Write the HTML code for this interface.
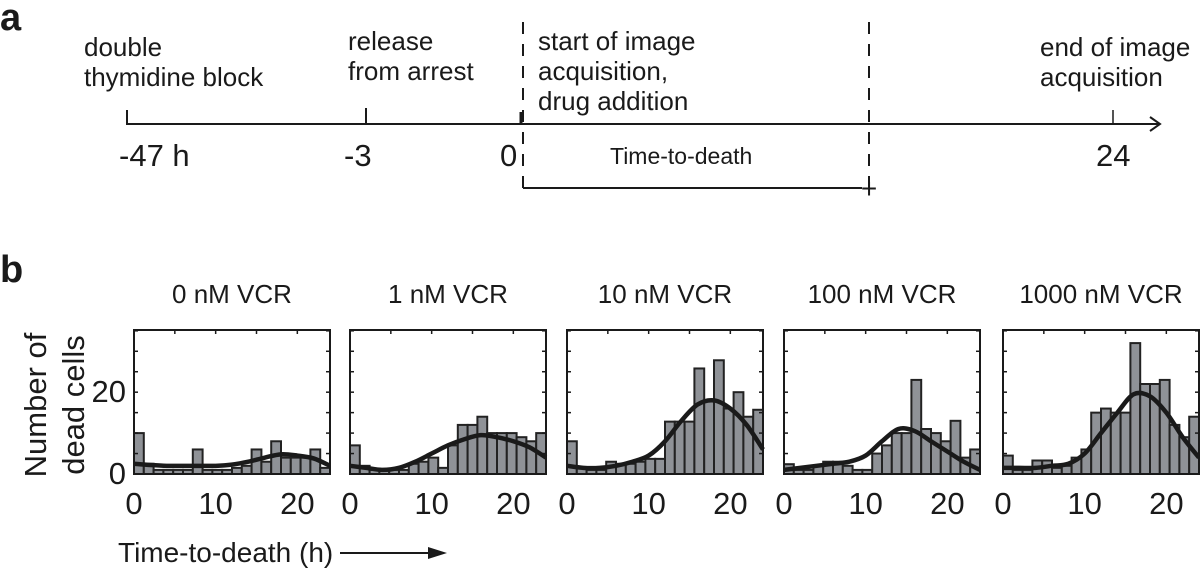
<!DOCTYPE html>
<html><head><meta charset="utf-8"><style>
body{margin:0;background:#fff;}
svg{display:block;font-family:"Liberation Sans",Arial,sans-serif;}
</style></head><body>
<svg width="1200" height="568" viewBox="0 0 1200 568" xmlns="http://www.w3.org/2000/svg">
<g fill="#1a1a1a">
<text x="0" y="30" font-size="38" font-weight="bold">a</text>
<line x1="126" y1="124" x2="1160" y2="124" stroke="#1a1a1a" stroke-width="2"/>
<polyline points="1150,117 1160,124 1150,131" fill="none" stroke="#1a1a1a" stroke-width="2"/>
<line x1="127" y1="110" x2="127" y2="124" stroke="#1a1a1a" stroke-width="2"/>
<line x1="366" y1="108" x2="366" y2="124" stroke="#1a1a1a" stroke-width="2"/>
<line x1="521" y1="112" x2="521" y2="124" stroke="#1a1a1a" stroke-width="3"/>
<line x1="1113" y1="110" x2="1113" y2="124" stroke="#1a1a1a" stroke-width="1.5"/>
<line x1="523" y1="22" x2="523" y2="196" stroke="#1a1a1a" stroke-width="2" stroke-dasharray="12,10"/>
<line x1="869" y1="22" x2="869" y2="196" stroke="#1a1a1a" stroke-width="2" stroke-dasharray="12,10"/>
<line x1="523" y1="188" x2="862" y2="188" stroke="#1a1a1a" stroke-width="2"/>
<text x="869" y="198" font-size="28" text-anchor="middle">+</text>
<g font-size="26">
<text x="84" y="56">double</text>
<text x="84" y="86">thymidine block</text>
<text x="348" y="50">release</text>
<text x="348" y="80">from arrest</text>
<text x="538" y="50">start of image</text>
<text x="538" y="80">acquisition,</text>
<text x="538" y="110">drug addition</text>
<text x="1040" y="56">end of image</text>
<text x="1040" y="86">acquisition</text>
<text x="610" y="164" font-size="23">Time-to-death</text>
</g>
<g font-size="31">
<text x="119" y="166">-47 h</text>
<text x="344" y="166">-3</text>
<text x="500" y="166">0</text>
<text x="1096" y="166">24</text>
</g>
</g>
<g fill="#1a1a1a">
<text x="0" y="282" font-size="38" font-weight="bold">b</text>
<text transform="translate(46,405) rotate(-90)" font-size="31" text-anchor="middle">Number of</text>
<text transform="translate(84,405) rotate(-90)" font-size="31" text-anchor="middle">dead cells</text>
<text x="126" y="402" font-size="31" text-anchor="end">20</text>
<text x="126" y="484" font-size="31" text-anchor="end">0</text>
<text x="118" y="562" font-size="28">Time-to-death (h)</text>
<line x1="340" y1="553" x2="430" y2="553" stroke="#1a1a1a" stroke-width="2"/>
<polygon points="428,547 447,553 428,559"/>
<g id="panels"></g>
</g>
</svg>
<script>
const titles = ["0 nM VCR","1 nM VCR","10 nM VCR","100 nM VCR","1000 nM VCR"];
const counts0 = [10,2.5,1,1,1,1,6,1,1,1,1.5,2,6,3,8,4,4,4,6,1.5];
const counts1 = [7,2,1,1,1,1,2.5,3,4,1.5,7,12,12,14,10,10,10,9,8,10];
const counts10 = [8,1.5,1,1,3,2.5,2.5,3,3.7,3.7,12.8,12.8,12.8,25.8,18,27.8,16,20,14,15.7];
const counts100 = [2.4,1,1,2,3,3,2,1,1,5,7,10,10,23,11,10,8,13,4,6];
const counts1000 = [4.5,1,1,3.3,3.3,1.5,2,4,6,15,16,15,15,32,22,22,23,12,9,14];
const fitX = [0,2,4,6,8,10,12,14,16,18,20,22,24];
const fit0 = [2.5,2.2,2,2,2,2,2.3,3,4,4.8,4.5,3.8,2];
const fit1 = [2,1.5,1,1.5,3,5,7,8.5,9.5,9,8,6.5,4];
const fit10 = [2,1.5,1.5,2,3,4.5,8,13,17,18,16,12,6];
const fit100 = [1,1.5,2,2.5,3,4.5,8,11,10.5,8,5.5,3,1];
const fit1000 = [1.5,1.5,1.5,2,2.5,5,10,15,19.5,19,15,9,4];
const allCounts = [counts0,counts1,counts10,counts100,counts1000];
const allFits = [fit0,fit1,fit10,fit100,fit1000];
const xTicks = [0,10,20];
const lefts = [134,350,567,784,1003];
const W = 196, TOP = 330, BOT = 474, YMAX = 35.2, XMAX = 24;
const NS = "http://www.w3.org/2000/svg";
const root = document.getElementById('panels');
function mk(tag, attrs, parent){const e=document.createElementNS(NS,tag);for(const k in attrs)e.setAttribute(k,attrs[k]);parent.appendChild(e);return e;}
allCounts.forEach((counts, p) => {
  const L = lefts[p];
  const xs = v => L + v / XMAX * W;
  const ys = v => BOT - v / YMAX * (BOT - TOP);
  const g = mk('g', {}, root);
  
  
  const t = mk('text', {x: L + W/2, y: 303, 'font-size': 26, 'text-anchor': 'middle'}, g);
  t.textContent = titles[p];
  
  
  const bw = XMAX / counts.length;
  counts.forEach((c, i) => {
    const r = mk('rect', {x: xs(i*bw), y: ys(c), width: xs((i+1)*bw) - xs(i*bw), height: BOT - ys(c), fill: '#8f9297', stroke: '#222', 'stroke-width': 2}, g);
    
    
  });
  const fit = allFits[p];
  const pts = fitX.map((x, i) => [xs(x), ys(fit[i])]);
  let d = 'M' + pts[0][0] + ',' + pts[0][1];
  for (let i = 0; i < pts.length - 1; i++) {
    const p0 = pts[Math.max(0,i-1)], p1 = pts[i], p2 = pts[i+1], p3 = pts[Math.min(pts.length-1,i+2)];
    const c1x = p1[0] + (p2[0]-p0[0])/6, c1y = p1[1] + (p2[1]-p0[1])/6;
    const c2x = p2[0] - (p3[0]-p1[0])/6, c2y = p2[1] - (p3[1]-p1[1])/6;
    d += ` C${c1x},${c1y} ${c2x},${c2y} ${p2[0]},${p2[1]}`;
  }
  const path = mk('path', {d: d, fill: 'none', stroke: '#1a1a1a', 'stroke-width': 4.5}, g);
  
  
  const box = mk('rect', {x: L, y: TOP, width: W, height: BOT - TOP, fill: 'none', stroke: '#1a1a1a', 'stroke-width': 2}, g);
  
  
  for (let v = 5; v < YMAX; v += 5) {
    mk('line', {x1: L, x2: L+4, y1: ys(v), y2: ys(v), stroke: '#1a1a1a', 'stroke-width': 1.5}, g);
    mk('line', {x1: L+W-4, x2: L+W, y1: ys(v), y2: ys(v), stroke: '#1a1a1a', 'stroke-width': 1.5}, g);
  }
  for (let v = 5; v < XMAX; v += 5) {
    mk('line', {x1: xs(v), x2: xs(v), y1: TOP, y2: TOP+4, stroke: '#1a1a1a', 'stroke-width': 1.5}, g);
  }
  xTicks.forEach(v => {
    const tl = mk('text', {x: xs(v), y: 514, 'font-size': 31, 'text-anchor': 'middle'}, g);
    tl.textContent = v;
    
    
  });
});
</script>
</body></html>
